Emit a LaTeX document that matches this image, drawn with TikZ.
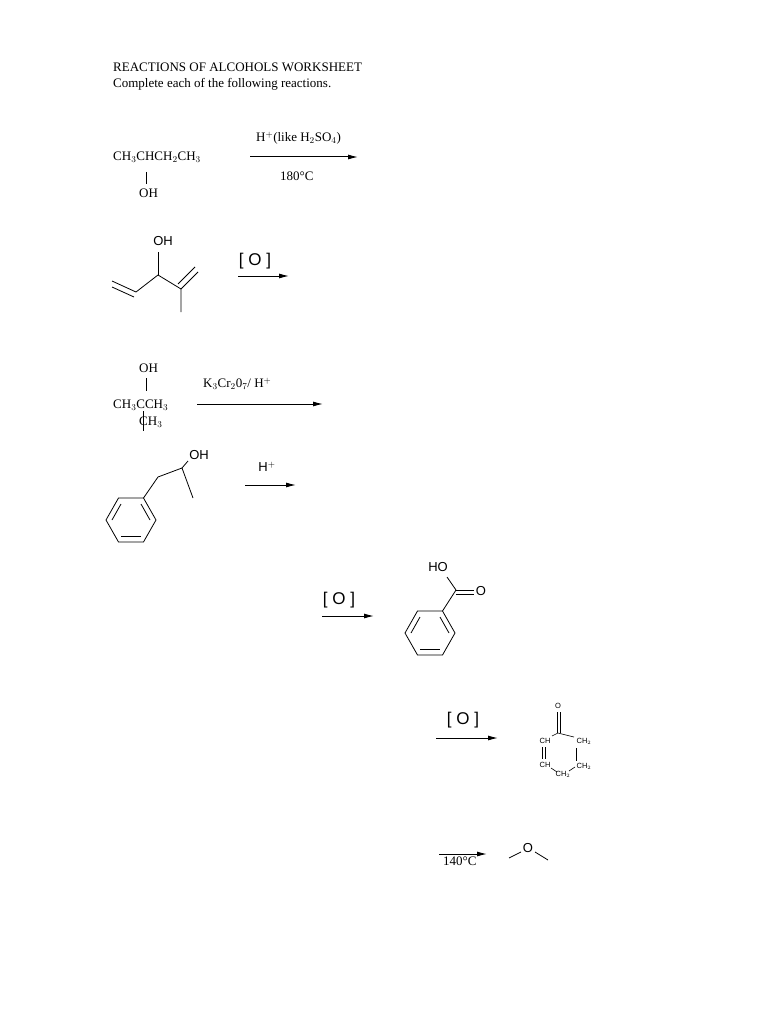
\documentclass[tikz,border=0pt]{standalone}
\usepackage{fontspec}
\setmainfont{Liberation Serif}
\newfontfamily\chemsans{Liberation Sans}
\usetikzlibrary{arrows.meta}
\begin{document}
\begin{tikzpicture}[x=1pt,y=-1pt,
  txt/.style={inner sep=0pt,anchor=west,font=\fontsize{13}{15}\selectfont},
  lab/.style={inner sep=1pt,font=\chemsans\fontsize{13}{15}\selectfont},
  brk/.style={inner sep=1pt,font=\chemsans\fontsize{17}{19}\selectfont},
  tiny/.style={inner sep=0.5pt,font=\chemsans\fontsize{7.5}{8}\selectfont},
  bond/.style={line width=0.8pt},
  rx/.style={line width=1pt,-{Latex[length=10pt,width=5pt]}}]
\useasboundingbox (0,0) rectangle (768,1024);
\node[txt] (title) at (113,67) {REACTIONS OF ALCOHOLS WORKSHEET};
\node[txt] (sub) at (113,84) {Complete each of the following reactions.};
% 1
\node[txt] (m1) at (113,157) {CH$_3$CHCH$_2$CH$_3$};
\node[txt] (oh1) at (139,193) {OH};
\draw[bond] (146,172) -- (146,184);
\coordinate (a1s) at (250,157); \coordinate (a1e) at (358,157);
\draw[rx] (a1s) -- (a1e);
\node[txt] (c1) at (256,138) {H$^+$(like H$_2$SO$_4$)};
\node[txt] (t1) at (280,176) {180\textdegree C};
% 2
\draw[bond] (112,281) -- (136,292) -- (158,275) -- (181,289) -- (181,312);
\draw[bond] (112,287) -- (134,297);
\draw[bond] (158,275) -- (158,252);
\draw[bond] (181,289) -- (198,272); \draw[bond] (178,284) -- (195,267);
\node[lab] (oh2) at (163,241) {OH};
\node[brk] (o2) at (255,261) {[ O ]};
\coordinate (a2s) at (238,276); \coordinate (a2e) at (289,276);
\draw[rx] (a2s) -- (a2e);
% 3
\node[txt] (oh3) at (139,368) {OH};
\draw[bond] (146,378) -- (146,391);
\node[txt] (m3) at (113,405) {CH$_3$CCH$_3$};
\node[txt] (m3b) at (139,422) {CH$_3$};
\draw[bond] (143,411) -- (143,431);
\node[txt] (c3) at (203,384) {K$_3$Cr$_2$0$_7$/ H$^+$};
\coordinate (a3s) at (197,404); \coordinate (a3e) at (323,404);
\draw[rx] (a3s) -- (a3e);
% 4
\draw[bond] (106,520) -- (118.5,498) -- (143.5,498) -- (156,520) -- (143.5,542) -- (118.5,542) -- cycle;
\draw[bond] (112,520) -- (121,504); \draw[bond] (121,536) -- (141,536); \draw[bond] (150,520) -- (141,504);
\draw[bond] (143.5,498) -- (158,477) -- (182,468) -- (193,498);
\draw[bond] (182,468) -- (188,461);
\node[lab] (oh4) at (199,455) {OH};
\node[lab] (h4) at (267,467) {H$^+$};
\coordinate (a4s) at (245,485); \coordinate (a4e) at (296,485);
\draw[rx] (a4s) -- (a4e);
% 5
\node[brk] (o5) at (339,600) {[ O ]};
\coordinate (a5s) at (322,616); \coordinate (a5e) at (374,616);
\draw[rx] (a5s) -- (a5e);
\draw[bond] (405,633) -- (417.5,611) -- (442.5,611) -- (455,633) -- (442.5,655) -- (417.5,655) -- cycle;
\draw[bond] (411,633) -- (420,617); \draw[bond] (420,649) -- (440,649); \draw[bond] (449,633) -- (440,617);
\draw[bond] (442.5,611) -- (456,590) -- (447,577);
\draw[bond] (456,590) -- (474,590); \draw[bond] (456,594) -- (474,594);
\node[lab] (ho5) at (438,567) {HO};
\node[lab] (o5b) at (481,591) {O};
% 6
\node[brk] (o6) at (463,720) {[ O ]};
\coordinate (a6s) at (436,738); \coordinate (a6e) at (498,738);
\draw[rx] (a6s) -- (a6e);
\node[tiny] (ko) at (558,706) {O};
\node[tiny] (k1) at (545,741) {CH};
\node[tiny] (k2) at (584,741) {CH$_2$};
\node[tiny] (k3) at (545,765) {CH};
\node[tiny] (k4) at (584,766) {CH$_2$};
\node[tiny] (k5) at (563,774) {CH$_2$};
\draw[bond,line width=0.6pt] (557,712) -- (557,733); \draw[bond,line width=0.6pt] (560,712) -- (560,733);
\draw[bond,line width=0.6pt] (552,736) -- (558,733) -- (574,737);
\draw[bond,line width=0.6pt] (542,747) -- (542,759); \draw[bond,line width=0.6pt] (545,747) -- (545,759);
\draw[bond,line width=1pt] (576,748) -- (576,761);
\draw[bond,line width=0.6pt] (551,768) -- (557,772);
\draw[bond,line width=0.6pt] (569,771) -- (575,767);
% 7
\coordinate (a7s) at (439,854); \coordinate (a7e) at (487,854);
\draw[rx] (a7s) -- (a7e);
\node[txt] (t7) at (443,861) {140\textdegree C};
\node[lab] (o7) at (528,848) {O};
\draw[bond] (509,858) -- (521,852); \draw[bond] (535,852) -- (548,860);
\end{tikzpicture}
\end{document}
